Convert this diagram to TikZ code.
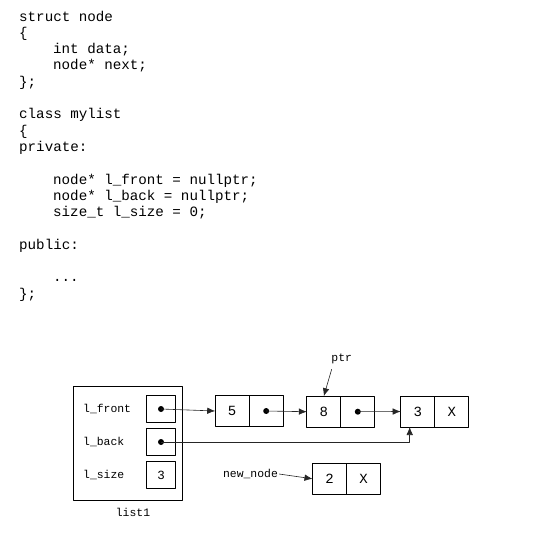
\documentclass[tikz,border=0pt]{standalone}
\usepackage{fontspec}
\setmonofont{Liberation Mono}
\usetikzlibrary{positioning,arrows.meta}
\tikzset{
  code/.style={anchor=base west,inner sep=0pt,font=\ttfamily\fontsize{14.2}{16.3}\selectfont},
  lbl/.style={inner sep=1pt,font=\ttfamily\fontsize{11.4}{13}\selectfont},
  cell/.style={draw,line width=0.9pt,outer sep=0pt,minimum width=34pt,minimum height=31pt,font=\ttfamily\fontsize{14}{16}\selectfont},
  slot/.style={draw,line width=0.9pt,minimum width=28.7pt,minimum height=27pt,font=\ttfamily\fontsize{12.5}{14}\selectfont},
  dot/.style={circle,fill,inner sep=0pt,minimum size=6pt},
  link/.style={-{Latex[length=8pt,width=6.5pt]},black!85,line width=0.6pt}
}
\begin{document}
\begin{tikzpicture}[x=1pt,y=-1pt,line join=round]
  \useasboundingbox[fill=white] (0,0) rectangle (533,550);

  % the declarations
  \foreach \x/\y/\t [count=\i] in {19/21/{struct node}, 19/37.3/\{, 53/53.6/{int data;}, 53/69.9/{node* next;}, 19/86.2/{\};},
      19/118.8/{class mylist}, 19/135.1/\{, 19/151.4/{private:},
      53/184/{node* l\_front = nullptr;}, 53/200.3/{node* l\_back = nullptr;}, 53/216.6/{size\_t l\_size = 0;},
      19/249.2/{public:}, 53/281.8/{...}, 19/298.1/{\};}}
    \node[code] (code\i) at (\x,\y) {\t};

  % the list object
  \node[draw,line width=0.9pt,minimum width=109.4pt,minimum height=114pt] (list) at (128,443.7) {};
  \node[lbl] (listname) at (133,512) {list1};
  \node[lbl,anchor=west] (lfront) at (82,409) {l\_front};
  \node[lbl,anchor=west] (lback) at (82,442) {l\_back};
  \node[lbl,anchor=west] (lsize) at (82,475) {l\_size};
  \node[slot] (front) at (161,409) {};
  \node[slot] (back) at (161,442) {};
  \node[slot] (size) at (161,475) {3};
  \node[dot] (dfront) at (front) {};
  \node[dot] (dback) at (back) {};

  % the nodes of the list
  \node[cell] (n5a) at (232.2,411) {5};
  \node[cell,right=0pt of n5a] (n5b) {};
  \node[cell] (n8a) at (323.8,411.7) {8};
  \node[cell,right=0pt of n8a] (n8b) {};
  \node[cell] (n3a) at (417.7,411.5) {3};
  \node[cell,right=0pt of n3a] (n3b) {X};
  \node[cell] (n2a) at (329.5,478.8) {2};
  \node[cell,right=0pt of n2a] (n2b) {X};
  \node[dot] (d5) at (n5b) {};
  \node[dot] (d8) at (n8b) {};

  \node[lbl] (ptr) at (341.7,359) {ptr};
  \node[lbl] (newnode) at (250.5,474) {new\_node};

  % pointers
  \draw[link] (dfront.center) -- (n5a.west);
  \draw[link] (d5.center) -- (n8a.west);
  \draw[link] (d8.center) -- (n3a.west);
  \draw[link] (dback.center) -| ([xshift=-8pt]n3a.south);
  \draw[link] ([xshift=-10pt,yshift=-4pt]ptr.south) -- (n8a.north);
  \draw[link] (newnode.east) -- (n2a.west);
\end{tikzpicture}
\end{document}
